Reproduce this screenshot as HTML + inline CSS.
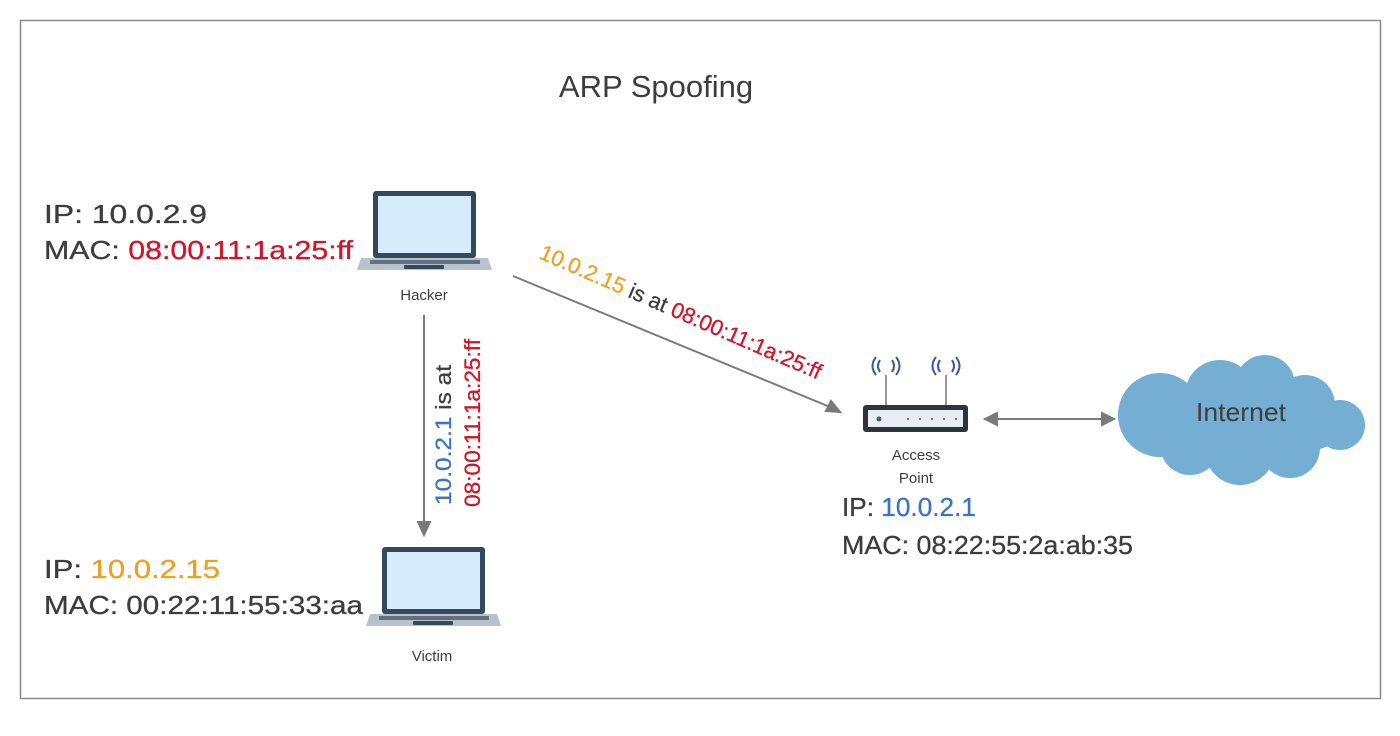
<!DOCTYPE html>
<html><head><style>
body{margin:0;background:#fff;width:1400px;height:731px;overflow:hidden;font-family:"Liberation Sans",sans-serif}
</style></head><body>
<svg width="1400" height="731" xmlns="http://www.w3.org/2000/svg" font-family="Liberation Sans, sans-serif">
<rect x="20.5" y="20.5" width="1360" height="678" fill="#fff" stroke="#8a8a8a" stroke-width="1.5"/>
<text x="656" y="97" font-size="31" fill="#3d3d3d" text-anchor="middle">ARP Spoofing</text>

<g font-size="26" fill="#3d3d3d" stroke="#3d3d3d" stroke-width="0.3">
<text x="44" y="223" textLength="163" lengthAdjust="spacingAndGlyphs">IP: 10.0.2.9</text>
<text x="44" y="259" textLength="309" lengthAdjust="spacingAndGlyphs">MAC: <tspan fill="#d0142a" stroke="#d0142a">08:00:11:1a:25:ff</tspan></text>
<text x="44" y="578" textLength="176" lengthAdjust="spacingAndGlyphs">IP: <tspan fill="#efa01e" stroke="#efa01e">10.0.2.15</tspan></text>
<text x="44" y="614" textLength="319" lengthAdjust="spacingAndGlyphs">MAC: 00:22:11:55:33:aa</text>
<text x="842" y="516" textLength="134" lengthAdjust="spacingAndGlyphs">IP: <tspan fill="#3d73c0" stroke="#3d73c0">10.0.2.1</tspan></text>
<text x="842" y="554" textLength="291" lengthAdjust="spacingAndGlyphs">MAC: 08:22:55:2a:ab:35</text>
</g>

<g id="lap">
<rect x="373" y="191" width="103" height="67" rx="3" fill="#34495e"/>
<rect x="378" y="196" width="93" height="57" fill="#d6ecfa"/>
<path d="M361 258 H488 L492 270 H357 Z" fill="#b8c2cc"/>
<rect x="370" y="260" width="110" height="4" fill="#4b5a6a" opacity="0.8"/>
<rect x="404" y="265" width="40" height="4" rx="1" fill="#34495e"/>
</g>
<use href="#lap" x="9" y="356"/>
<text x="424" y="300" font-size="15" fill="#3d3d3d" text-anchor="middle">Hacker</text>
<text x="432" y="661" font-size="15" fill="#3d3d3d" text-anchor="middle">Victim</text>

<line x1="886" y1="375" x2="886" y2="405" stroke="#999" stroke-width="2"/>
<line x1="946" y1="375" x2="946" y2="405" stroke="#999" stroke-width="2"/>
<g fill="none" stroke="#3d5a99" stroke-width="2">
<path d="M880 360 q-4 6 0 12 M892 360 q4 6 0 12 M876 357 q-7 9 0 18 M896 357 q7 9 0 18"/>
<path d="M940 360 q-4 6 0 12 M952 360 q4 6 0 12 M936 357 q-7 9 0 18 M956 357 q7 9 0 18"/>
</g>
<rect x="863" y="405" width="105" height="27" rx="3" fill="#2c3440"/>
<rect x="868" y="410" width="95" height="17" fill="#e9eef3"/>
<circle cx="879" cy="419" r="2.5" fill="#3d5a99"/>
<g fill="#555"><circle cx="908" cy="419" r="1"/><circle cx="920" cy="419" r="1"/><circle cx="932" cy="419" r="1"/><circle cx="944" cy="419" r="1"/><circle cx="956" cy="419" r="1"/></g>
<text x="916" y="460" font-size="15" fill="#3d3d3d" text-anchor="middle">Access</text>
<text x="916" y="483" font-size="15" fill="#3d3d3d" text-anchor="middle">Point</text>

<g fill="#74aed3">
<ellipse cx="1240" cy="425" rx="110" ry="35"/>
<circle cx="1160" cy="415" r="42"/>
<circle cx="1220" cy="395" r="35"/>
<circle cx="1265" cy="385" r="30"/>
<circle cx="1305" cy="405" r="30"/>
<circle cx="1340" cy="425" r="25"/>
<circle cx="1240" cy="450" r="35"/>
<circle cx="1290" cy="448" r="30"/>
<circle cx="1190" cy="445" r="30"/>
</g>
<text x="1241" y="421" font-size="26" fill="#3d3d3d" text-anchor="middle" textLength="90" lengthAdjust="spacingAndGlyphs">Internet</text>

<g stroke="#7a7a7a" stroke-width="2" fill="#7a7a7a">
<line x1="513" y1="276" x2="830" y2="407"/>
<path d="M840 412 L826 411 L831 401 Z"/>
<line x1="424" y1="315" x2="424" y2="523"/>
<path d="M424 535 L418 522 L430 522 Z"/>
<line x1="995" y1="419" x2="1102" y2="419"/>
<path d="M985 419 L997 413 L997 425 Z"/>
<path d="M1114 419 L1102 413 L1102 425 Z"/>
</g>

<g stroke-width="0.3">
<text font-size="22" fill="#3d3d3d" stroke="#3d3d3d" transform="translate(538,258) rotate(23.5)" textLength="305" lengthAdjust="spacingAndGlyphs"><tspan fill="#efa01e" stroke="#efa01e">10.0.2.15</tspan> is at <tspan fill="#d0142a" stroke="#d0142a">08:00:11:1a:25:ff</tspan></text>
<text font-size="22" fill="#3d3d3d" stroke="#3d3d3d" transform="translate(451,505) rotate(-90)" textLength="140" lengthAdjust="spacingAndGlyphs"><tspan fill="#3d73c0" stroke="#3d73c0">10.0.2.1</tspan> is at</text>
<text font-size="22" fill="#d0142a" stroke="#d0142a" transform="translate(480,507) rotate(-90)" textLength="168" lengthAdjust="spacingAndGlyphs">08:00:11:1a:25:ff</text>
</g>
</svg>
</body></html>
